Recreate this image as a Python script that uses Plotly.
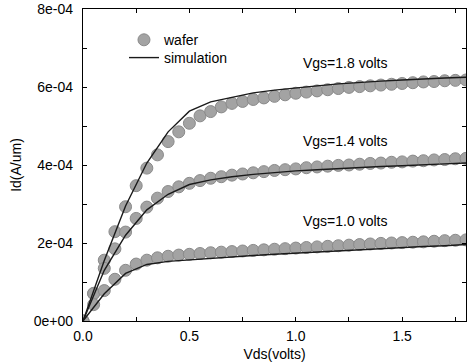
import plotly.graph_objects as go

# Wafer measurements (Vds step 0.05 V)
vds_wafer = [round(0.05 * i, 2) for i in range(37)]
id_wafer_18 = [0, 0.71, 1.56, 2.29, 2.93, 3.47, 3.92, 4.26, 4.60, 4.85, 5.07, 5.26, 5.37, 5.49,
               5.58, 5.63, 5.68, 5.72, 5.76, 5.80, 5.84, 5.87, 5.90, 5.93, 5.96, 5.99, 6.01,
               6.03, 6.05, 6.07, 6.09, 6.11, 6.13, 6.14, 6.16, 6.17, 6.18]
id_wafer_14 = [0, 0.70, 1.35, 1.85, 2.28, 2.63, 2.92, 3.15, 3.32, 3.44, 3.53, 3.60, 3.66, 3.70,
               3.74, 3.77, 3.80, 3.83, 3.86, 3.88, 3.90, 3.93, 3.95, 3.97, 3.99, 4.00, 4.02,
               4.04, 4.05, 4.07, 4.08, 4.10, 4.11, 4.13, 4.14, 4.16, 4.17]
id_wafer_10 = [0, 0.42, 0.78, 1.07, 1.30, 1.46, 1.56, 1.62, 1.66, 1.69, 1.71, 1.73, 1.75, 1.765,
               1.78, 1.795, 1.81, 1.825, 1.84, 1.855, 1.87, 1.885, 1.90, 1.915, 1.93, 1.945,
               1.96, 1.975, 1.99, 2.00, 2.01, 2.02, 2.03, 2.045, 2.06, 2.07, 2.08]

# Simulation (Vds step 0.1 V)
vds_sim = [round(0.1 * i, 1) for i in range(19)]
id_sim_18 = [0, 1.55, 2.95, 4.05, 4.85, 5.38, 5.62, 5.74, 5.85, 5.92, 5.98, 6.03, 6.08, 6.12,
             6.15, 6.18, 6.21, 6.23, 6.25]
id_sim_14 = [0, 1.30, 2.20, 2.85, 3.25, 3.50, 3.62, 3.70, 3.76, 3.81, 3.85, 3.88, 3.91, 3.94,
             3.96, 3.98, 4.01, 4.03, 4.05]
id_sim_10 = [0, 0.70, 1.22, 1.45, 1.53, 1.57, 1.61, 1.65, 1.68, 1.71, 1.74, 1.77, 1.80, 1.83,
             1.85, 1.88, 1.91, 1.93, 1.96]

curve_labels = ["Vgs=1.8 volts", "Vgs=1.4 volts", "Vgs=1.0 volts"]
label_x = [1.233, 1.233, 1.233]
label_y = [6.62e-4, 4.62e-4, 2.56e-4]

y_tickvals = [0, 2e-4, 4e-4, 6e-4, 8e-4]
y_ticktext = ["0e+00", "2e-04", "4e-04", "6e-04", "8e-04"]
x_tickvals = [0.0, 0.5, 1.0, 1.5]
x_ticktext = ["0.0", "0.5", "1.0", "1.5"]

FONT = "Liberation Sans, Arial, sans-serif"
scale = 1e-4

fig = go.Figure()
wafer_sets = [id_wafer_18, id_wafer_14, id_wafer_10]
sim_sets = [id_sim_18, id_sim_14, id_sim_10]

for i, w in enumerate(wafer_sets):
    fig.add_trace(go.Scatter(
        x=vds_wafer, y=[v * scale for v in w], mode="markers",
        name="wafer", legendgroup="wafer", showlegend=(i == 0), legend="legend",
        marker=dict(symbol="circle", size=12, color="#a3a3a3",
                    line=dict(color="#8a8a8a", width=1)),
    ))
for i, s in enumerate(sim_sets):
    fig.add_trace(go.Scatter(
        x=vds_sim, y=[v * scale for v in s], mode="lines",
        name="simulation", legendgroup="sim", showlegend=(i == 0), legend="legend2",
        line=dict(color="#1a1a1a", width=1.4),
    ))

for t, xx, yy in zip(curve_labels, label_x, label_y):
    fig.add_annotation(x=xx, y=yy, text=t, showarrow=False,
                       font=dict(family=FONT, size=14, color="#000"))

axis_common = dict(
    showgrid=False, zeroline=False, showline=True, linecolor="#000", linewidth=1.2,
    mirror="allticks", ticks="inside", ticklen=4, tickcolor="#000", automargin=False,
    tickfont=dict(family=FONT, size=14, color="#000"),
)

fig.update_xaxes(
    range=[0, 1.8], tickvals=x_tickvals, ticktext=x_ticktext,
    minor=dict(ticks="inside", dtick=0.25, ticklen=4, tickcolor="#000"),
    title=dict(text="Vds(volts)", font=dict(family=FONT, size=14, color="#000"), standoff=6),
    ticklabelstandoff=2,
    **axis_common,
)
fig.update_yaxes(
    range=[0, 8e-4], tickvals=y_tickvals, ticktext=y_ticktext,
    minor=dict(ticks="inside", dtick=1e-4, ticklen=4, tickcolor="#000"),
    title=dict(text="Id(A/um)", font=dict(family=FONT, size=14, color="#000"), standoff=8),
    ticklabelstandoff=6,
    **axis_common,
)

leg_common = dict(xanchor="left", yanchor="middle", bgcolor="rgba(0,0,0,0)",
                  font=dict(family=FONT, size=14, color="#000"), borderwidth=0)
fig.update_layout(
    width=474, height=364,
    margin=dict(l=83, r=8, t=9, b=43, autoexpand=False),
    paper_bgcolor="#fff", plot_bgcolor="#fff",
    font=dict(family=FONT, size=14, color="#000"),
    legend=dict(x=0.107, y=0.90, **leg_common),
    legend2=dict(x=0.107, y=0.843, **leg_common),
)

fig.write_html("out.html",
               config={"displayModeBar": False},
               post_script="document.body.style.margin='0';document.body.style.overflow='hidden';")
